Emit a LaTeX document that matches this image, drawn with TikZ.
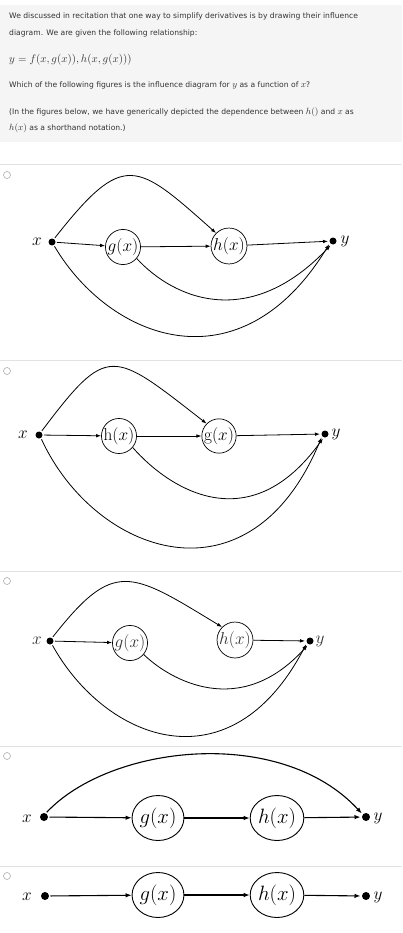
\documentclass[tikz,border=0pt]{standalone}
\usepackage[no-math]{fontspec}
\setmainfont{DejaVu Sans}
\usetikzlibrary{arrows.meta,shapes.geometric}
\definecolor{txtc}{HTML}{333333}
\definecolor{boxc}{HTML}{F5F5F5}
\definecolor{sepc}{HTML}{E2E2E2}
\definecolor{radioc}{HTML}{A0A0A0}
\newcommand{\mth}[1]{{\fontsize{9.2}{10}\selectfont$#1$}}
\begin{document}
\begin{tikzpicture}[x=1pt,y=-1pt,
  txt/.style={anchor=base west,inner sep=0,text=txtc,font=\fontsize{7.6}{10}\selectfont},
  dot/.style={circle,fill=black,inner sep=0,minimum size=7pt,outer sep=1.5pt},
  bigdot/.style={circle,fill=black,inner sep=0,minimum size=8pt,outer sep=1.5pt},
  var/.style={circle,draw,line width=0.7pt,inner sep=0,minimum size=32pt,font=\fontsize{17}{17}\selectfont},
  smallvar/.style={var,minimum size=30pt,font=\fontsize{16}{16}\selectfont,text=black!80},
  ellvar/.style={ellipse,draw,line width=0.9pt,inner sep=0,minimum width=35pt,minimum height=45pt,font=\fontsize{19.5}{19.5}\selectfont},
  lab/.style={inner sep=0,font=\fontsize{16}{16}\selectfont},
  biglab/.style={inner sep=0,font=\fontsize{19}{19}\selectfont},
  arr/.style={-{Latex[length=5pt,width=3.6pt]},line width=0.8pt},
  bigarr/.style={-{Latex[length=6pt,width=4.5pt]},line width=1.1pt},
  radio/.style={circle,draw=radioc,line width=0.5pt,minimum size=7pt,inner sep=0},
  sepline/.style={draw=sepc,line width=0.8pt}]

\useasboundingbox[fill=white] (0,0) rectangle (402,933);
\fill[boxc] (0,5) rectangle (402,142);

% question text
\node[txt] (t1) at (9,18.5) {We discussed in recitation that one way to simplify derivatives is by drawing their influence};
\node[txt] (t2) at (9,36) {diagram. We are given the following relationship:};
\node[txt,font=\fontsize{10.5}{11}\selectfont] (t3) at (9,62.5) {$y=f(x,g(x)),h(x,g(x)))$};
\node[txt] (t4) at (9,88) {Which of the following figures is the influence diagram for \mth{y} as a function of \mth{x}?};
\node[txt] (t5) at (9,115) {(In the figures below, we have generically depicted the dependence between \mth{h()} and \mth{x} as};
\node[txt] (t6) at (9,130.5) {\mth{h(x)} as a shorthand notation.)};

% separators
\draw[sepline] (0,164) -- (402,164);
\draw[sepline] (0,360) -- (402,360);
\draw[sepline] (0,571) -- (402,571);
\draw[sepline] (0,746) -- (402,746);
\draw[sepline] (0,866) -- (402,866);

% radio buttons
\node[radio] (r1) at (7,175) {};
\node[radio] (r2) at (7,371) {};
\node[radio] (r3) at (7,581) {};
\node[radio] (r4) at (7,756) {};
\node[radio] (r5) at (7,876) {};

% ---------- diagram 1
\node[dot] (x1) at (52,242) {};
\node[lab] (xl1) at (37,242) {$x$};
\node[var] (g1) at (123,247) {$g(x)$};
\node[var] (h1) at (229,246) {$h(x)$};
\node[dot] (y1) at (333,241) {};
\node[lab] (yl1) at (345,241) {$y$};
\draw[arr] (x1) -- (g1);
\draw[arr] (g1) -- (h1);
\draw[arr] (h1) -- (y1);
\draw[arr] (x1.55) .. controls (124,150) and (136,162) .. (h1.135);
\draw[arr] (x1.-60) .. controls (110,340) and (240,390) .. (y1.-140);
\draw[arr] (g1.-40) .. controls (175,300) and (250,330) .. (y1.-120);

% ---------- diagram 2
\node[dot] (x2) at (39,435) {};
\node[lab] (xl2) at (23,435) {$x$};
\node[var] (h2) at (119,436) {$\mathrm{h}(x)$};
\node[var] (g2) at (219,436) {$\mathrm{g}(x)$};
\node[dot] (y2) at (325,434) {};
\node[lab] (yl2) at (336,434) {$y$};
\draw[arr] (x2) -- (h2);
\draw[arr] (h2) -- (g2);
\draw[arr] (g2) -- (y2);
\draw[arr] (x2.55) .. controls (108,343) and (112,350) .. (g2.135);
\draw[arr] (x2.-60) .. controls (95,555) and (250,610) .. (y2.-135);
\draw[arr] (h2.-40) .. controls (170,490) and (250,540) .. (y2.-115);

% ---------- diagram 3
\node[dot] (x3) at (50,641) {};
\node[lab,text=black!80] (xl3) at (37,641) {$x$};
\node[smallvar] (g3) at (130,643) {$g(x)$};
\node[smallvar] (h3) at (235,640) {$h(x)$};
\node[dot] (y3) at (310,641) {};
\node[lab,text=black!80] (yl3) at (320,641) {$y$};
\draw[arr] (x3) -- (g3);
\draw[arr] (h3) -- (y3);
\draw[arr] (x3.55) .. controls (114,559) and (130,571) .. (h3.135);
\draw[arr] (x3.-60) .. controls (105,740) and (230,790) .. (y3.-140);
\draw[arr] (g3.-40) .. controls (170,680) and (240,720) .. (y3.-120);

% ---------- diagram 4
\node[bigdot] (x4) at (44,817) {};
\node[biglab] (xl4) at (27,819) {$x$};
\node[ellvar] (g4) at (158,818) {$g(x)$};
\node[ellvar] (h4) at (277,818) {$h(x)$};
\node[bigdot] (y4) at (366,817) {};
\node[biglab] (yl4) at (378,818) {$y$};
\draw[bigarr] (x4) -- (g4);
\draw[bigarr] (g4) -- (h4);
\draw[bigarr] (h4) -- (y4);
\draw[bigarr] (x4.60) .. controls (110,745) and (280,725) .. (y4.140);

% ---------- diagram 5
\begin{scope}
\clip (0,866) rectangle (402,918);
\node[bigdot] (x5) at (45,896) {};
\node[biglab] (xl5) at (27,897) {$x$};
\node[ellvar] (g5) at (158,895) {$g(x)$};
\node[ellvar] (h5) at (277,895) {$h(x)$};
\node[bigdot] (y5) at (366,896) {};
\node[biglab] (yl5) at (378,897) {$y$};
\draw[bigarr] (x5) -- (g5);
\draw[bigarr] (g5) -- (h5);
\draw[bigarr] (h5) -- (y5);
\end{scope}
\end{tikzpicture}
\end{document}
